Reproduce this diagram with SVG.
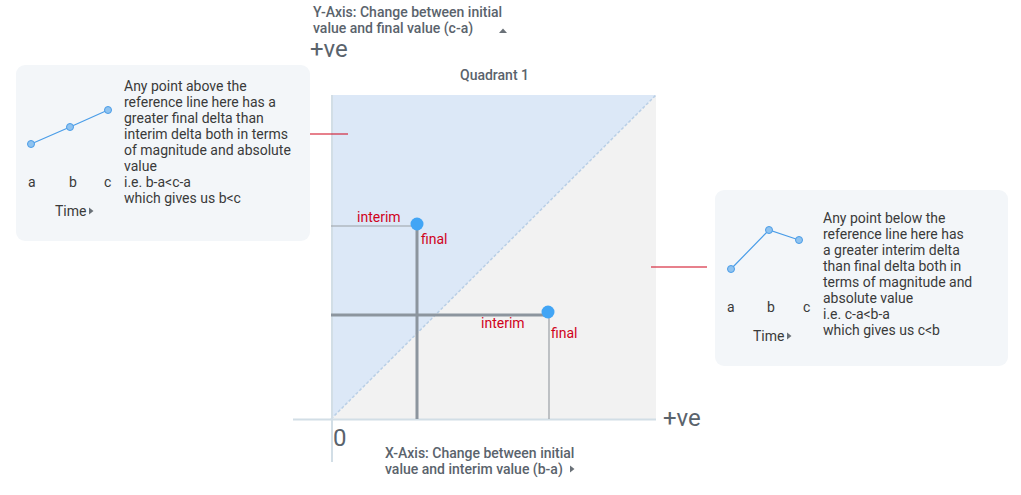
<svg xmlns="http://www.w3.org/2000/svg" width="1021" height="495" viewBox="0 0 1021 495">
<style>
.t{font-family:Roboto,"Liberation Sans",sans-serif;font-size:14px;fill:#3a3a3a}
.ax{font-family:Roboto,"Liberation Sans",sans-serif;font-size:14px;font-weight:500;fill:#5a636c}
.big{font-family:Roboto,"Liberation Sans",sans-serif;font-size:24px;fill:#5a636c}
.red{font-family:Roboto,"Liberation Sans",sans-serif;font-size:14px;fill:#d0021b}
.box{fill:#f3f6f9}
.mini{fill:none;stroke:#4a9de8;stroke-width:1.2}
.md{fill:#8fc3f0;stroke:#4a9de8;stroke-width:1}
.tri{fill:#6a7178}
.conn{stroke:#d0021b;stroke-width:1.2}
</style>
<rect width="1021" height="495" fill="#ffffff"/>
<g id="quadrant">
<polygon points="331,95 656,95 656,419 331,419" fill="#f2f2f2"/>
<polygon points="331,95 656,95 331,419" fill="#dce8f7"/>
<line x1="331" y1="419" x2="656" y2="95" stroke="#b9cfe6" stroke-width="1.5" stroke-dasharray="3,2"/>
<text class="ax" x="460" y="80">Quadrant 1</text>
</g>
<g id="axes">
<line x1="293" y1="419.5" x2="656" y2="419.5" stroke="#d2dee6" stroke-width="2"/>
<line x1="332" y1="95" x2="332" y2="462" stroke="#d2dee6" stroke-width="2"/>
<text class="big" x="333" y="446">0</text>
<text class="big" x="663" y="426">+ve</text>
<text class="big" x="310" y="57">+ve</text>
<text class="ax" x="313" y="17">Y-Axis: Change between initial</text>
<text class="ax" x="313" y="33">value and final value (c-a)</text>
<polygon class="tri" points="499,33 507,33 503,28.5"/>
<text class="ax" x="385" y="458">X-Axis: Change between initial</text>
<text class="ax" x="385" y="474">value and interim value (b-a)</text>
<polygon class="tri" points="570,465.5 570,472.5 574.5,469"/>
</g>
<g id="point1">
<line x1="331" y1="226" x2="417" y2="226" stroke="#9a9fa5" stroke-width="1.2"/>
<line x1="417" y1="224" x2="417" y2="419" stroke="#8c959e" stroke-width="3"/>
<circle cx="417" cy="224" r="6.5" fill="#42a5f5"/>
<text class="red" x="357" y="222">interim</text>
<text class="red" x="421" y="244">final</text>
</g>
<g id="point2">
<line x1="331" y1="315" x2="548" y2="315" stroke="#8c959e" stroke-width="3"/>
<line x1="549" y1="312" x2="549" y2="419" stroke="#9a9fa5" stroke-width="1.2"/>
<circle cx="548" cy="312" r="6.5" fill="#42a5f5"/>
<text class="red" x="481" y="328">interim</text>
<text class="red" x="551" y="338">final</text>
</g>
<g id="connectors">
<line class="conn" x1="292" y1="134" x2="348" y2="134"/>
<line class="conn" x1="651" y1="267" x2="707" y2="267"/>
</g>
<g id="box-above">
<rect class="box" x="16" y="65" width="294" height="176" rx="9"/>
<polyline class="mini" points="31,144 70,127 108,110"/>
<circle class="md" cx="31" cy="144" r="3.5"/>
<circle class="md" cx="70" cy="127" r="3.5"/>
<circle class="md" cx="108" cy="110" r="3.5"/>
<text class="t" x="28" y="187">a</text>
<text class="t" x="69" y="187">b</text>
<text class="t" x="104" y="187">c</text>
<text class="t" x="55" y="216">Time</text>
<polygon class="tri" points="89,207.5 89,214.5 93.5,211"/>
<text class="t" x="124" y="91">Any point above the</text>
<text class="t" x="124" y="107">reference line here has a</text>
<text class="t" x="124" y="123">greater final delta than</text>
<text class="t" x="124" y="139">interim delta both in terms</text>
<text class="t" x="124" y="155">of magnitude and absolute</text>
<text class="t" x="124" y="171">value</text>
<text class="t" x="124" y="187">i.e. b-a&lt;c-a</text>
<text class="t" x="124" y="203">which gives us b&lt;c</text>
</g>
<g id="box-below">
<rect class="box" x="715" y="190" width="293" height="176" rx="9"/>
<polyline class="mini" points="731,269 769,230 799,240"/>
<circle class="md" cx="731" cy="269" r="3.5"/>
<circle class="md" cx="769" cy="230" r="3.5"/>
<circle class="md" cx="799" cy="240" r="3.5"/>
<text class="t" x="727" y="312">a</text>
<text class="t" x="767" y="312">b</text>
<text class="t" x="803" y="312">c</text>
<text class="t" x="753" y="341">Time</text>
<polygon class="tri" points="787,332.5 787,339.5 791.5,336"/>
<text class="t" x="823" y="223">Any point below the</text>
<text class="t" x="823" y="239">reference line here has</text>
<text class="t" x="823" y="255">a greater interim delta</text>
<text class="t" x="823" y="271">than final delta both in</text>
<text class="t" x="823" y="287">terms of magnitude and</text>
<text class="t" x="823" y="303">absolute value</text>
<text class="t" x="823" y="319">i.e. c-a&lt;b-a</text>
<text class="t" x="823" y="335">which gives us c&lt;b</text>
</g>
</svg>
